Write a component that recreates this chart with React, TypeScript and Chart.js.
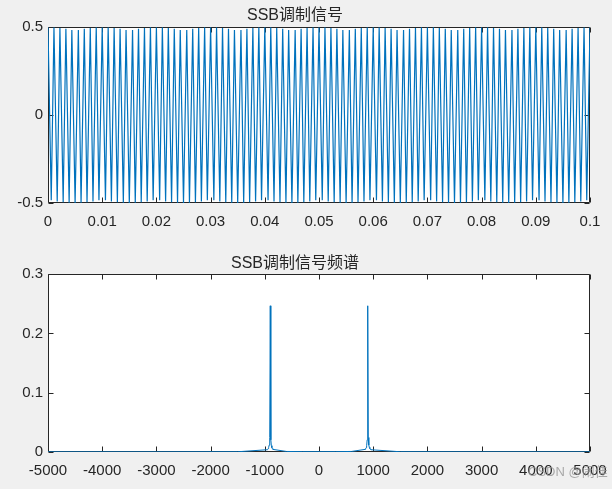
import React, { useEffect, useRef } from "react";
import { Chart, registerables } from "chart.js";

Chart.register(...registerables);

// ---------- data ----------
const SAMPLE_RATE = 10000; // Hz

// top panel: sample index of each crest / trough of the SSB signal, and its value
const sigSampleIndex = [
  0, 6, 11, 17, 22, 28, 33, 39, 44, 50, 56, 61, 67, 72, 78, 83, 89, 94,
  100, 106, 111, 117, 122, 128, 133, 139, 144, 150, 156, 161, 167, 172, 178, 183, 189, 194,
  200, 206, 211, 217, 222, 228, 233, 239, 244, 250, 256, 261, 267, 272, 278, 283, 289, 294,
  300, 306, 311, 317, 322, 328, 333, 339, 344, 350, 356, 361, 367, 372, 378, 383, 389, 394,
  400, 406, 411, 417, 422, 428, 433, 439, 444, 450, 456, 461, 467, 472, 478, 483, 489, 494,
  500, 506, 511, 517, 522, 528, 533, 539, 544, 550, 556, 561, 567, 572, 578, 583, 589, 594,
  600, 606, 611, 617, 622, 628, 633, 639, 644, 650, 656, 661, 667, 672, 678, 683, 689, 694,
  700, 706, 711, 717, 722, 728, 733, 739, 744, 750, 756, 761, 767, 772, 778, 783, 789, 794,
  800, 806, 811, 817, 822, 828, 833, 839, 844, 850, 856, 861, 867, 872, 878, 883, 889, 894,
  900, 906, 911, 917, 922, 928, 933, 939, 944, 950, 956, 961, 967, 972, 978, 983, 989, 994,
  1000,
];
const sigValue = [
  0.5, -0.484, 0.499, -0.491, 0.496, -0.496, 0.491, -0.499, 0.484, -0.5, 0.484, -0.499, 0.491, -0.496, 0.496, -0.491, 0.499, -0.484,
  0.5, -0.484, 0.499, -0.491, 0.496, -0.496, 0.491, -0.499, 0.484, -0.5, 0.484, -0.499, 0.491, -0.496, 0.496, -0.491, 0.499, -0.484,
  0.5, -0.484, 0.499, -0.491, 0.496, -0.496, 0.491, -0.499, 0.484, -0.5, 0.484, -0.499, 0.491, -0.496, 0.496, -0.491, 0.499, -0.484,
  0.5, -0.484, 0.499, -0.491, 0.496, -0.496, 0.491, -0.499, 0.484, -0.5, 0.484, -0.499, 0.491, -0.496, 0.496, -0.491, 0.499, -0.484,
  0.5, -0.484, 0.499, -0.491, 0.496, -0.496, 0.491, -0.499, 0.484, -0.5, 0.484, -0.499, 0.491, -0.496, 0.496, -0.491, 0.499, -0.484,
  0.5, -0.484, 0.499, -0.491, 0.496, -0.496, 0.491, -0.499, 0.484, -0.5, 0.484, -0.499, 0.491, -0.496, 0.496, -0.491, 0.499, -0.484,
  0.5, -0.484, 0.499, -0.491, 0.496, -0.496, 0.491, -0.499, 0.484, -0.5, 0.484, -0.499, 0.491, -0.496, 0.496, -0.491, 0.499, -0.484,
  0.5, -0.484, 0.499, -0.491, 0.496, -0.496, 0.491, -0.499, 0.484, -0.5, 0.484, -0.499, 0.491, -0.496, 0.496, -0.491, 0.499, -0.484,
  0.5, -0.484, 0.499, -0.491, 0.496, -0.496, 0.491, -0.499, 0.484, -0.5, 0.484, -0.499, 0.491, -0.496, 0.496, -0.491, 0.499, -0.484,
  0.5, -0.484, 0.499, -0.491, 0.496, -0.496, 0.491, -0.499, 0.484, -0.5, 0.484, -0.499, 0.491, -0.496, 0.496, -0.491, 0.499, -0.484,
  0.5,
];

// bottom panel: spectrum (frequency in Hz, magnitude)
const specFreq = [
  -5000, -3000, -1500, -959, -949, -939, -929, -919, -909, -899, -889, -879, -869, -859, -849, -600, -300, 0,
  300, 600, 849, 859, 869, 879, 889, 899, 909, 919, 929, 939, 949, 959, 1500, 3000, 5000,
];
const specMag = [
  0.0002, 0.0002, 0.0004, 0.0038, 0.0045, 0.0057, 0.0077, 0.0117, 0.0245, 0.2467, 0.0205, 0.0107, 0.0072, 0.0055, 0.0044, 0.0009, 0.0006, 0.0005,
  0.0006, 0.0009, 0.0044, 0.0055, 0.0072, 0.0107, 0.0205, 0.2467, 0.0245, 0.0117, 0.0077, 0.0057, 0.0045, 0.0038, 0.0004, 0.0002, 0.0002,
];

const topTitle = "SSB调制信号";
const bottomTitle = "SSB调制信号频谱";
const watermark = "CSDN @闹佳";

// ---------- styling ----------
const FONT = "'Liberation Sans', Arial, 'Noto Sans CJK SC', sans-serif";
const AXIS_COLOR = "#262626";
const LINE_COLOR = "#0072BD";
const TICK_LEN = 5;
const TICK_FONT = 15;

const fmt = (v: number) => String(parseFloat(Number(v).toFixed(6)));

const boxPlugin = {
  id: "matlabBox",
  beforeDraw(chart: any) {
    const { ctx, chartArea: a } = chart;
    ctx.save();
    ctx.fillStyle = "#ffffff";
    ctx.fillRect(a.left, a.top, a.right - a.left, a.bottom - a.top);
    ctx.restore();
  },
  beforeDatasetsDraw(chart: any) {
    const { ctx, chartArea: a, scales } = chart;
    const L = Math.round(a.left) + 0.5;
    const R = Math.round(a.right) - 0.5;
    const T = Math.round(a.top) + 0.5;
    const B = Math.round(a.bottom) - 0.5;
    ctx.save();
    ctx.strokeStyle = AXIS_COLOR;
    ctx.lineWidth = 1;
    ctx.beginPath();
    ctx.rect(L, T, R - L, B - T);
    for (const t of scales.x.ticks) {
      const px = Math.round(scales.x.getPixelForValue(t.value)) + 0.5;
      ctx.moveTo(px, B);
      ctx.lineTo(px, B - TICK_LEN);
      ctx.moveTo(px, T);
      ctx.lineTo(px, T + TICK_LEN);
    }
    for (const t of scales.y.ticks) {
      const py = Math.round(scales.y.getPixelForValue(t.value)) + 0.5;
      ctx.moveTo(L, py);
      ctx.lineTo(L + TICK_LEN, py);
      ctx.moveTo(R, py);
      ctx.lineTo(R - TICK_LEN, py);
    }
    ctx.stroke();
    ctx.restore();
  },
};

type PanelProps = {
  xs: number[];
  ys: number[];
  title: string;
  xMin: number;
  xMax: number;
  xStep: number;
  yMin: number;
  yMax: number;
  yStep: number;
  height: number;
  titlePadTop: number;
  titlePadBottom: number;
  xAxisHeight: number;
  xLabelPad: number;
  lineWidth: number;
};

function Panel(p: PanelProps) {
  const ref = useRef<HTMLCanvasElement | null>(null);
  useEffect(() => {
    if (!ref.current) return;
    const data = p.xs.map((x, i) => ({ x, y: p.ys[i] }));
    const chart = new Chart(ref.current, {
      type: "line",
      data: {
        datasets: [
          {
            data,
            borderColor: LINE_COLOR,
            borderWidth: p.lineWidth,
            pointRadius: 0,
            tension: 0,
            fill: false,
          },
        ],
      },
      options: {
        animation: false,
        responsive: false,
        devicePixelRatio: 1,
        layout: { padding: { left: 0, right: 22, top: 0, bottom: 0 } },
        plugins: {
          legend: { display: false },
          tooltip: { enabled: false },
          title: {
            display: true,
            text: p.title,
            color: AXIS_COLOR,
            font: { family: FONT, size: 16, weight: "normal", lineHeight: 1.2 },
            padding: { top: p.titlePadTop, bottom: p.titlePadBottom },
          },
        },
        scales: {
          x: {
            type: "linear",
            min: p.xMin,
            max: p.xMax,
            grid: { display: false, drawTicks: false },
            border: { display: false },
            ticks: {
              stepSize: p.xStep,
              autoSkip: false,
              maxRotation: 0,
              minRotation: 0,
              padding: p.xLabelPad,
              color: AXIS_COLOR,
              font: { family: FONT, size: TICK_FONT },
              callback: (v: any) => fmt(v),
            },
            afterFit: (s: any) => {
              s.height = p.xAxisHeight;
              s.paddingLeft = 0;
              s.paddingRight = 0;
            },
          },
          y: {
            type: "linear",
            min: p.yMin,
            max: p.yMax,
            grid: { display: false, drawTicks: false },
            border: { display: false },
            ticks: {
              stepSize: p.yStep,
              padding: 5,
              color: AXIS_COLOR,
              font: { family: FONT, size: TICK_FONT },
              callback: (v: any) => fmt(v),
            },
            afterFit: (s: any) => {
              s.width = 48;
              s.paddingTop = 0;
              s.paddingBottom = 0;
            },
          },
        },
      } as any,
      plugins: [boxPlugin],
    });
    return () => chart.destroy();
  }, []);
  return <canvas ref={ref} width={612} height={p.height} style={{ display: "block", width: 612, height: p.height }} />;
}

export default function App() {
  const sigTime = sigSampleIndex.map((n) => n / SAMPLE_RATE);
  return (
    <div
      style={{
        position: "fixed",
        left: 0,
        top: 0,
        width: 612,
        height: 489,
        background: "#f0f0f0",
        overflow: "hidden",
      }}
    >
      <Panel
        xs={sigTime}
        ys={sigValue}
        title={topTitle}
        xMin={0}
        xMax={0.1}
        xStep={0.01}
        yMin={-0.5}
        yMax={0.5}
        yStep={0.5}
        height={245}
        titlePadTop={6}
        titlePadBottom={2}
        xAxisHeight={42}
        xLabelPad={10}
        lineWidth={1.2}
      />
      <Panel
        xs={specFreq}
        ys={specMag}
        title={bottomTitle}
        xMin={-5000}
        xMax={5000}
        xStep={1000}
        yMin={0}
        yMax={0.3}
        yStep={0.1}
        height={244}
        titlePadTop={9}
        titlePadBottom={1}
        xAxisHeight={37}
        xLabelPad={10}
        lineWidth={1}
      />
      <div
        style={{
          position: "absolute",
          left: 528,
          top: 461,
          fontFamily: FONT,
          fontSize: 13,
          color: "rgba(150,150,150,0.8)",
          whiteSpace: "nowrap",
          pointerEvents: "none",
        }}
      >
        {watermark}
      </div>
    </div>
  );
}
